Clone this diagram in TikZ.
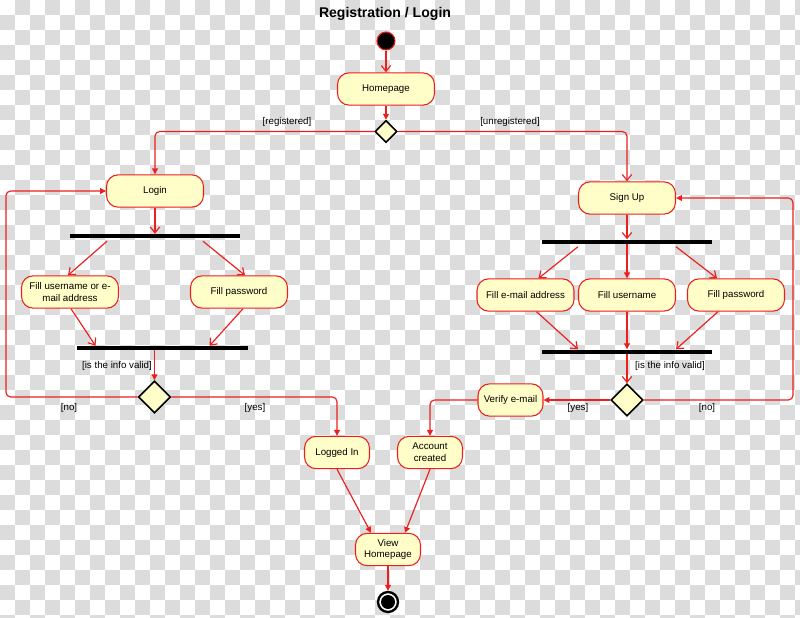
\documentclass[tikz,border=0pt]{standalone}
\usepackage{fontspec}
\setmainfont{Liberation Sans}
\usetikzlibrary{arrows.meta,shapes.geometric,calc}
\definecolor{uired}{RGB}{236,30,30}
\definecolor{uifill}{RGB}{255,253,200}
\definecolor{checker}{RGB}{220,220,220}
\tikzset{
  action/.style={draw=uired,fill=uifill,line width=0.9pt,rounded corners=10pt,
    minimum width=2.91cm,minimum height=0.97cm,align=center,inner sep=2pt,
    font=\fontsize{8.3}{10}\selectfont},
  narrowaction/.style={action,minimum width=1.95cm},
  syncbar/.style={fill=black,minimum width=5.1cm,minimum height=0.12cm,inner sep=0pt},
  decision/.style={diamond,draw=black,fill=uifill,line width=1.3pt,inner sep=0pt,minimum size=0.96cm},
  guard/.style={font=\fontsize{8.3}{10}\selectfont,inner sep=0pt},
  flowarrow/.style={draw=uired,line width=1pt,rounded corners=4pt,-{Triangle[length=5pt,width=5pt]}},
  forkarrow/.style={draw=uired,line width=1pt,-{Straight Barb[length=5pt,width=8pt]}},
}
\begin{document}
\begin{tikzpicture}[x=0.03cm,y=-0.03cm]
\useasboundingbox (0,0) rectangle (800,618);
% the checked background
\begin{scope}
\clip (0,0) rectangle (800,618);
\foreach \j in {0,...,41}{
  \pgfmathtruncatemacro{\first}{mod(\j+1,2)}
  \pgfmathtruncatemacro{\second}{\first+2}
  \foreach \i in {\first,\second,...,53}
    \fill[checker] (15*\i,15*\j) rectangle ++(15,15);
}
\end{scope}
\node[font=\fontsize{12}{14}\selectfont\bfseries] (title) at (385,14) {Registration / Login};
% start and the first choice
\node[circle,draw=uired,fill=black,line width=0.9pt,minimum size=0.54cm,inner sep=0pt] (start) at (386,41) {};
\node[action] (home) at (386,89) {Homepage};
\node[decision,minimum size=0.66cm] (topdec) at (386,131.5) {};
% login side
\node[action] (login) at (155,191) {Login};
\node[syncbar] (lfork) at (155,236) {};
\node[action] (luser) at (70,292) {Fill username or e-\\mail address};
\node[action] (lpass) at (239,292) {Fill password};
\node[syncbar] (ljoin) at (162.5,348) {};
\node[decision] (ldec) at (154.5,397) {};
% sign up side
\node[action] (signup) at (627,198) {Sign Up};
\node[syncbar] (rfork) at (627,241.5) {};
\node[action] (remail) at (525.5,295) {Fill e-mail address};
\node[action] (ruser) at (627,295) {Fill username};
\node[action] (rpass) at (736,295) {Fill password};
\node[syncbar] (rjoin) at (627,351.5) {};
\node[decision] (rdec) at (627,400) {};
\node[narrowaction] (verify) at (510.5,400) {Verify e-mail};
% the end
\node[narrowaction] (loggedin) at (337,452.5) {Logged In};
\node[narrowaction] (account) at (430,452.5) {Account\\created};
\node[narrowaction] (view) at (388,549.5) {View\\Homepage};
\node[circle,draw=black,fill=white,line width=2pt,minimum size=0.6cm,inner sep=0pt] (finish) at (388,602) {};
\node[circle,fill=black,minimum size=0.42cm,inner sep=0pt] (finishdot) at (finish) {};
% guards
\node[guard] (greg) at (287,122) {[registered]};
\node[guard] (gunreg) at (510,122) {[unregistered]};
\node[guard] (lvalid) at (117,366) {[is the info valid]};
\node[guard] (rvalid) at (670,366) {[is the info valid]};
\node[guard] (lno) at (69,408) {[no]};
\node[guard] (lyes) at (255,408) {[yes]};
\node[guard] (ryes) at (578,407.5) {[yes]};
\node[guard] (rno) at (707,408) {[no]};
% connectors
\draw[forkarrow] (start) -- (home);
\draw[flowarrow] (home) -- (topdec);
\draw[flowarrow] (topdec.west) -| (login.north);
\draw[forkarrow,rounded corners=4pt] (topdec.east) -| (signup.north);
\draw[forkarrow] (login) -- (lfork);
\draw[forkarrow] ($(lfork.south)+(-48,3)$) -- ($(luser.north)+(-2,0)$);
\draw[forkarrow] ($(lfork.south)+(48,3)$) -- ($(lpass.north)+(6,0)$);
\draw[forkarrow] ($(luser.south)+(1,0)$) -- ($(ljoin.north)+(-67,0)$);
\draw[forkarrow] ($(lpass.south)+(4,0)$) -- ($(ljoin.north)+(47,0)$);
\draw[flowarrow] (ljoin.south -| ldec.north) -- (ldec.north);
\draw[flowarrow] (ldec.west) -| ($(login.west)+(-100,0)$) -- (login.west);
\draw[flowarrow] (ldec.east) -| (loggedin.north);
\draw[forkarrow] (signup) -- (rfork);
\draw[forkarrow] ($(rfork.south)+(-49,3)$) -- ($(remail.north)+(13,0)$);
\draw[flowarrow] (rfork) -- (ruser);
\draw[forkarrow] ($(rfork.south)+(49,3)$) -- ($(rpass.north)+(-19,0)$);
\draw[forkarrow] ($(remail.south)+(11,0)$) -- ($(rjoin.north)+(-49,0)$);
\draw[flowarrow] (ruser) -- (rjoin);
\draw[forkarrow] ($(rpass.south)+(-18,0)$) -- ($(rjoin.north)+(49,0)$);
\draw[forkarrow] (rjoin) -- (rdec);
\draw[flowarrow] (rdec.west) -- (verify.east);
\draw[flowarrow] (rdec.east) -| ($(signup.east)+(117,0)$) -- (signup.east);
\draw[flowarrow] (verify.west) -| (account.north);
\draw[flowarrow] (loggedin.south) -- ($(view.north)+(-17,0)$);
\draw[flowarrow] (account.south) -- ($(view.north)+(17,0)$);
\draw[flowarrow] (view) -- (finish);
\end{tikzpicture}
\end{document}
